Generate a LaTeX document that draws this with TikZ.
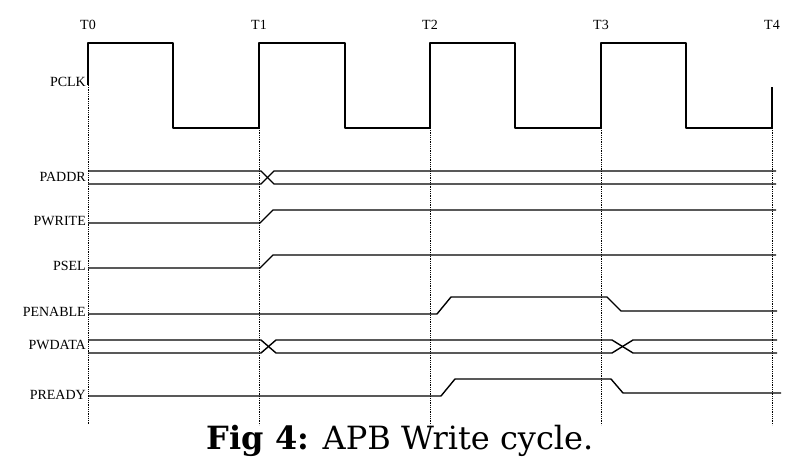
\documentclass[tikz,border=0pt]{standalone}
\usepackage{fontspec}
\setmainfont{Liberation Serif}
\newfontfamily\capfont{DejaVu Serif}
\begin{document}
\begin{tikzpicture}[x=1pt,y=-1pt,
  sig/.style={line width=1.4pt,line join=round},
  grid/.style={densely dotted,line width=0.8pt},
  lbl/.style={anchor=east,inner sep=2pt,font=\fontsize{14}{14}\selectfont},
  tl/.style={anchor=south,inner sep=1pt,font=\fontsize{14}{14}\selectfont}]
\useasboundingbox (0,0) rectangle (804,462);
% time markers
\foreach \n/\x/\y in {0/88/85,1/259/128,2/430/128,3/601/128,4/772/128}{
  \node[tl] (T\n) at (\x,31) {T\n};
  \coordinate (g\n) at (\x,\y);
  \coordinate (e\n) at (\x,425);
  \draw[grid] (g\n) -- (e\n);
}
% labels
\node[lbl] (lclk) at (88,82) {PCLK};
\node[lbl] (laddr) at (88,177) {PADDR};
\node[lbl] (lwr) at (88,221) {PWRITE};
\node[lbl] (lsel) at (88,266) {PSEL};
\node[lbl] (len) at (88,312) {PENABLE};
\node[lbl] (ldat) at (88,345) {PWDATA};
\node[lbl] (lrdy) at (88,395) {PREADY};
% PCLK
\draw[sig] (88,85) -- (88,43) -- (173,43) -- (173,128) -- (259,128) -- (259,43) -- (345,43) -- (345,128)
  -- (430,128) -- (430,43) -- (515,43) -- (515,128) -- (601,128) -- (601,43) -- (686,43) -- (686,128)
  -- (772,128) -- (772,87);
% PADDR
\draw[sig] (88,171) -- (261,171) -- (274,184) -- (776,184);
\draw[sig] (88,184) -- (261,184) -- (274,171) -- (776,171);
% PWRITE
\draw[sig] (88,223) -- (260,223) -- (273,210) -- (776,210);
% PSEL
\draw[sig] (88,268) -- (260,268) -- (273,255) -- (776,255);
% PENABLE
\draw[sig] (88,314) -- (437,314) -- (451,297) -- (607,297) -- (621,311) -- (777,311);
% PWDATA
\draw[sig] (88,340) -- (261,340) -- (276,353) -- (612,353) -- (633,340) -- (777,340);
\draw[sig] (88,353) -- (261,353) -- (276,340) -- (612,340) -- (633,353) -- (777,353);
% PREADY
\draw[sig] (88,396) -- (441,396) -- (455,379) -- (611,379) -- (623,393) -- (781,393);
% caption
\node[font=\capfont\fontsize{32}{32}\selectfont,inner sep=0pt] (cap) at (400,441) {\textbf{Fig 4:} APB Write cycle.};
\end{tikzpicture}
\end{document}
